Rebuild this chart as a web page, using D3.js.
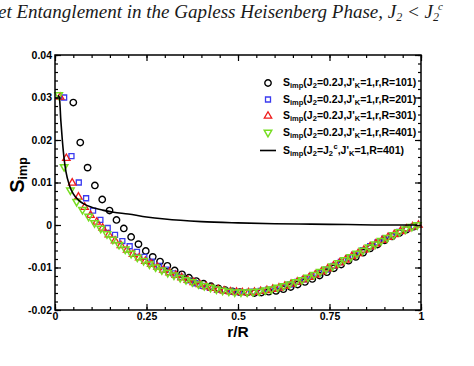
<!DOCTYPE html>
<html>
<head>
<meta charset="utf-8">
<script src="https://cdn.jsdelivr.net/npm/d3@7"></script>
<style>
  body { margin: 0; background: #fff; }
  svg { display: block; }
</style>
</head>
<body>
<svg id="chart" width="474" height="366"></svg>
<script>
// R = 101 (circles)
const r101 = [0.050,0.069,0.089,0.109,0.129,0.149,0.168,0.188,0.208,0.228,0.248,0.267,0.287,0.307,0.327,0.347,0.366,0.386,0.406,0.426,0.446,0.465,0.485,0.505,0.525,0.545,0.564,0.584,0.604,0.624,0.644,0.663,0.683,0.703,0.723,0.743,0.762,0.782,0.802,0.822,0.842,0.861,0.881,0.901,0.921,0.941,0.960,0.980];
const s101 = [0.0288,0.0194,0.0135,0.0093,0.0060,0.0034,0.0012,-0.0008,-0.0028,-0.0045,-0.0061,-0.0075,-0.0086,-0.0096,-0.0107,-0.0116,-0.0124,-0.0132,-0.0138,-0.0144,-0.0149,-0.0153,-0.0156,-0.0158,-0.0159,-0.0160,-0.0159,-0.0157,-0.0155,-0.0151,-0.0146,-0.0140,-0.0134,-0.0127,-0.0119,-0.0111,-0.0102,-0.0093,-0.0084,-0.0075,-0.0065,-0.0055,-0.0046,-0.0036,-0.0027,-0.0019,-0.0011,-0.0004];

// R = 201 (squares)
const r201 = [0.025,0.045,0.065,0.085,0.104,0.124,0.144,0.164,0.184,0.204,0.224,0.244,0.264,0.284,0.303,0.323,0.343,0.363,0.383,0.403,0.423,0.443,0.463,0.483,0.502,0.522,0.542,0.562,0.582,0.602,0.622,0.642,0.662,0.682,0.701,0.721,0.741,0.761,0.781,0.801,0.821,0.841,0.861,0.881,0.900,0.920,0.940,0.960,0.980];
const s201 = [0.0300,0.0162,0.0100,0.0063,0.0034,0.0012,-0.0007,-0.0023,-0.0038,-0.0050,-0.0063,-0.0075,-0.0086,-0.0096,-0.0105,-0.0114,-0.0122,-0.0130,-0.0137,-0.0143,-0.0148,-0.0152,-0.0155,-0.0157,-0.0158,-0.0158,-0.0157,-0.0155,-0.0152,-0.0149,-0.0145,-0.0140,-0.0134,-0.0128,-0.0121,-0.0113,-0.0105,-0.0096,-0.0087,-0.0078,-0.0069,-0.0059,-0.0050,-0.0041,-0.0032,-0.0024,-0.0016,-0.0009,-0.0003];

// R = 301 (red triangles)
const r301 = [0.014,0.031,0.047,0.064,0.081,0.097,0.114,0.130,0.147,0.164,0.180,0.197,0.213,0.230,0.247,0.263,0.280,0.296,0.313,0.330,0.346,0.363,0.379,0.396,0.413,0.429,0.446,0.462,0.479,0.496,0.512,0.529,0.545,0.562,0.579,0.595,0.612,0.628,0.645,0.662,0.678,0.695,0.711,0.728,0.745,0.761,0.778,0.794,0.811,0.828,0.844,0.861,0.877,0.894,0.910,0.927,0.944,0.960,0.977,0.993];
const s301 = [0.0301,0.0157,0.0099,0.0066,0.0042,0.0023,0.0007,-0.0007,-0.0023,-0.0037,-0.0048,-0.0059,-0.0069,-0.0077,-0.0085,-0.0092,-0.0099,-0.0106,-0.0112,-0.0118,-0.0124,-0.0130,-0.0135,-0.0140,-0.0145,-0.0149,-0.0152,-0.0155,-0.0157,-0.0158,-0.0159,-0.0159,-0.0158,-0.0156,-0.0154,-0.0151,-0.0148,-0.0144,-0.0139,-0.0134,-0.0129,-0.0123,-0.0117,-0.0110,-0.0103,-0.0096,-0.0089,-0.0082,-0.0074,-0.0067,-0.0059,-0.0051,-0.0044,-0.0036,-0.0029,-0.0022,-0.0015,-0.0009,-0.0004,0.0000];

// R = 401 (green down triangles)
const r401 = [0.010,0.025,0.042,0.059,0.075,0.092,0.108,0.125,0.142,0.158,0.175,0.192,0.208,0.225,0.242,0.258,0.275,0.292,0.308,0.325,0.342,0.358,0.375,0.392,0.408,0.425,0.441,0.458,0.475,0.491,0.508,0.525,0.541,0.558,0.575,0.591,0.608,0.625,0.641,0.658,0.675,0.691,0.708,0.725,0.741,0.758,0.775,0.791,0.808,0.825,0.841,0.858,0.875,0.891,0.908,0.925,0.941,0.958,0.975,0.990];
const s401 = [0.0306,0.0137,0.0082,0.0055,0.0036,0.0020,0.0005,-0.0008,-0.0021,-0.0034,-0.0046,-0.0057,-0.0067,-0.0076,-0.0084,-0.0092,-0.0099,-0.0106,-0.0112,-0.0118,-0.0124,-0.0129,-0.0134,-0.0139,-0.0143,-0.0147,-0.0151,-0.0154,-0.0156,-0.0158,-0.0158,-0.0158,-0.0157,-0.0156,-0.0153,-0.0151,-0.0147,-0.0143,-0.0139,-0.0134,-0.0129,-0.0123,-0.0117,-0.0110,-0.0104,-0.0097,-0.0089,-0.0082,-0.0075,-0.0067,-0.0060,-0.0052,-0.0045,-0.0037,-0.0030,-0.0023,-0.0016,-0.0010,-0.0004,0.0000];

// critical J2 line, R = 401
const rLine = [0.008,0.012,0.016,0.020,0.025,0.030,0.040,0.050,0.065,0.080,0.100,0.130,0.160,0.200,0.250,0.300,0.400,0.500,0.600,0.700,0.800,0.900,0.990];
const sLine = [0.0305,0.0300,0.0245,0.0200,0.0155,0.0125,0.0092,0.0073,0.0058,0.0049,0.0042,0.0035,0.0030,0.0026,0.0019,0.0014,0.0008,0.0005,0.0003,0.0002,0.0001,0.0000,0.0000];

const xTicks = [0, 0.25, 0.5, 0.75, 1];
const xTickLabels = ["0", "0.25", "0.5", "0.75", "1"];
const yTicks = [-0.02, -0.01, 0, 0.01, 0.02, 0.03, 0.04];
const yTickLabels = ["-0.02", "-0.01", "0", "0.01", "0.02", "0.03", "0.04"];

const legendRows = [
  {kind: "circle", parts: [["S"],["imp","sub"],["(J"],["2","sub"],["=0.2J,J'"],["K","sub"],["=1,r,R=101)"]]},
  {kind: "square", parts: [["S"],["imp","sub"],["(J"],["2","sub"],["=0.2J,J'"],["K","sub"],["=1,r,R=201)"]]},
  {kind: "up",     parts: [["S"],["imp","sub"],["(J"],["2","sub"],["=0.2J,J'"],["K","sub"],["=1,r,R=301)"]]},
  {kind: "down",   parts: [["S"],["imp","sub"],["(J"],["2","sub"],["=0.2J,J'"],["K","sub"],["=1,r,R=401)"]]},
  {kind: "line",   parts: [["S"],["imp","sub"],["(J"],["2","sub"],["=J"],["2","sub"],["c","sup"],[",J'"],["K","sub"],["=1,R=401)"]]}
];

const svg = d3.select("#chart");
const font = "Liberation Sans, Arial, Helvetica, sans-serif";

const x = d3.scaleLinear().domain([0, 1]).range([55, 421]);
const y = d3.scaleLinear().domain([-0.02, 0.04]).range([310, 55]);

// page title, cut on the left like the source page
const title = svg.append("text")
  .attr("x", -2).attr("y", 18)
  .attr("font-family", "Liberation Serif, DejaVu Serif, serif")
  .attr("font-style", "italic")
  .attr("font-size", 19)
  .attr("fill", "#1a1a1a");
title.append("tspan").text("et Entanglement in the Gapless Heisenberg Phase, J");
title.append("tspan").attr("font-size", 12).attr("baseline-shift", "-25%").text("2");
title.append("tspan").text(" < J");
title.append("tspan").attr("font-size", 12).attr("baseline-shift", "-25%").text("2");
title.append("tspan").attr("font-size", 11).attr("dx", -1).attr("baseline-shift", "70%").text("c");

// series
const sym = {
  circle: d3.symbol(d3.symbolCircle, 32),
  square: d3.symbol(d3.symbolSquare, 25),
  up: d3.symbol(d3.symbolTriangle, 24),
  down: d3.symbol(d3.symbolTriangle, 24)
};
const styles = {
  circle: {stroke: "#000", w: 1.4},
  square: {stroke: "#3b3bf0", w: 1.3},
  up: {stroke: "#ee1c1c", w: 1.3},
  down: {stroke: "#77dd22", w: 1.5}
};

function drawSeries(rs, ss, kind) {
  const n = Math.min(rs.length, ss.length);
  const pts = d3.range(n).map(i => [rs[i], ss[i]]);
  svg.append("g")
    .selectAll("path")
    .data(pts)
    .join("path")
    .attr("d", sym[kind])
    .attr("transform", d => `translate(${x(d[0])},${y(d[1])})` + (kind == "down" ? " rotate(180)" : ""))
    .attr("fill", "none")
    .attr("stroke", styles[kind].stroke)
    .attr("stroke-width", styles[kind].w);
}

drawSeries(r101, s101, "circle");
drawSeries(r201, s201, "square");
drawSeries(r301, s301, "up");
drawSeries(r401, s401, "down");

const line = d3.line()
  .x(d => x(d[0]))
  .y(d => y(d[1]))
  .curve(d3.curveMonotoneX);
svg.append("path")
  .datum(rLine.map((r, i) => [r, sLine[i]]))
  .attr("d", line)
  .attr("fill", "none")
  .attr("stroke", "#000")
  .attr("stroke-width", 1.6);

// axes, ticks pointing inward on all 4 sides
function styleAxis(g) {
  g.select(".domain").remove();
  g.selectAll("line").attr("stroke", "#000").attr("stroke-width", 1.2);
  g.selectAll("text")
    .attr("font-family", font)
    .attr("font-weight", "bold")
    .attr("font-size", 10.5)
    .attr("fill", "#000");
}
const minorX = d3.range(0, 1.0001, 0.05);
const minorY = d3.range(-0.02, 0.04001, 0.002);

svg.append("g").attr("transform", "translate(0,310)")
  .call(d3.axisBottom(x).tickValues(xTicks).tickSize(-6).tickPadding(3)
    .tickFormat((d, i) => xTickLabels[i]))
  .call(styleAxis);
svg.append("g").attr("transform", "translate(0,310)")
  .call(d3.axisBottom(x).tickValues(minorX).tickSize(-3).tickFormat(""))
  .call(styleAxis);
svg.append("g").attr("transform", "translate(0,55)")
  .call(d3.axisTop(x).tickValues(xTicks).tickSize(-6).tickFormat(""))
  .call(styleAxis);
svg.append("g").attr("transform", "translate(0,55)")
  .call(d3.axisTop(x).tickValues(minorX).tickSize(-3).tickFormat(""))
  .call(styleAxis);

svg.append("g").attr("transform", "translate(55,0)")
  .call(d3.axisLeft(y).tickValues(yTicks).tickSize(-6).tickPadding(3)
    .tickFormat((d, i) => yTickLabels[i]))
  .call(styleAxis);
svg.append("g").attr("transform", "translate(55,0)")
  .call(d3.axisLeft(y).tickValues(minorY).tickSize(-3).tickFormat(""))
  .call(styleAxis);
svg.append("g").attr("transform", "translate(421,0)")
  .call(d3.axisRight(y).tickValues(yTicks).tickSize(-6).tickFormat(""))
  .call(styleAxis);
svg.append("g").attr("transform", "translate(421,0)")
  .call(d3.axisRight(y).tickValues(minorY).tickSize(-3).tickFormat(""))
  .call(styleAxis);

// frame
svg.append("rect")
  .attr("x", 55).attr("y", 55)
  .attr("width", 366).attr("height", 255)
  .attr("fill", "none")
  .attr("stroke", "#000")
  .attr("stroke-width", 1.5);

// axis titles
svg.append("text")
  .attr("x", 238).attr("y", 337)
  .attr("text-anchor", "middle")
  .attr("font-family", font)
  .attr("font-weight", "bold")
  .attr("font-size", 15.5)
  .text("r/R");

const yt = svg.append("text")
  .attr("transform", "translate(24,175) rotate(-90)")
  .attr("text-anchor", "middle")
  .attr("font-family", font)
  .attr("font-weight", "bold")
  .attr("font-size", 20);
yt.append("tspan").text("S");
yt.append("tspan").attr("font-size", 12.5).attr("baseline-shift", "-25%").text("imp");

// legend
const lg = svg.append("g").attr("font-family", font).attr("font-weight", "bold");
legendRows.forEach((row, i) => {
  const cy = 83 + i * 16.5 + (i == 4 ? 1.5 : 0);
  if (row.kind == "line") {
    lg.append("line").attr("x1", 260).attr("x2", 276).attr("y1", cy).attr("y2", cy)
      .attr("stroke", "#000").attr("stroke-width", 1.6);
  } else {
    lg.append("path")
      .attr("d", sym[row.kind])
      .attr("transform", `translate(268,${cy})` + (row.kind == "down" ? " rotate(180)" : ""))
      .attr("fill", "none")
      .attr("stroke", styles[row.kind].stroke)
      .attr("stroke-width", styles[row.kind].w);
  }
  const t = lg.append("text").attr("x", 283).attr("y", cy + 3).attr("font-size", 10.5);
  row.parts.forEach(p => {
    const ts = t.append("tspan").text(p[0]);
    if (p[1] == "sub") ts.attr("font-size", 7.5).attr("baseline-shift", "-30%");
    if (p[1] == "sup") ts.attr("font-size", 7.5).attr("baseline-shift", "60%").attr("dx", 0.5);
  });
});
</script>
</body>
</html>
